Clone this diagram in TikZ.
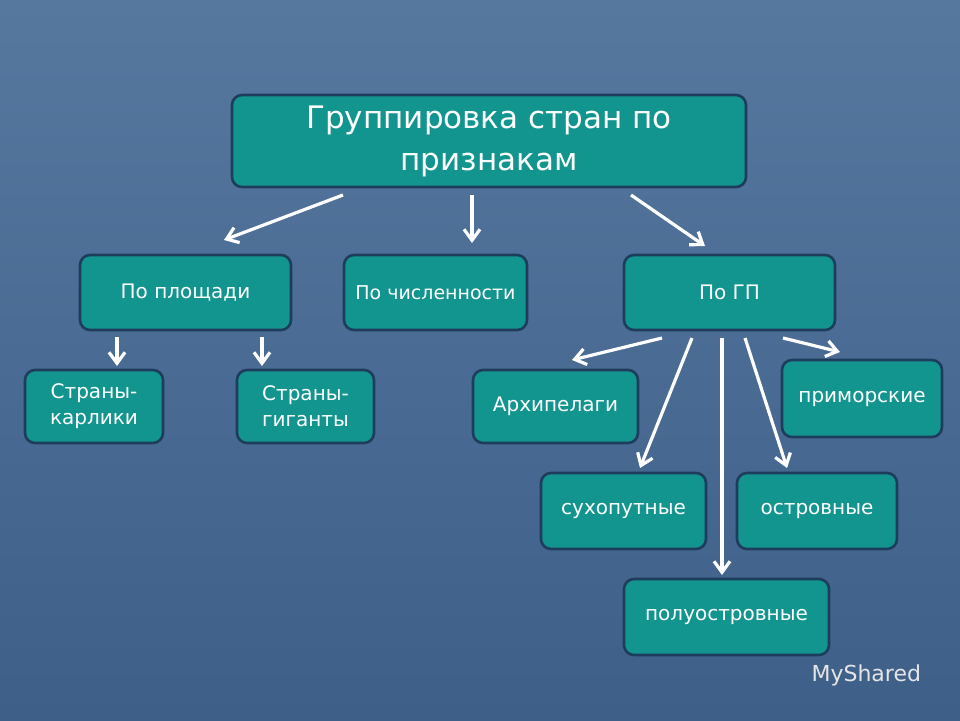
\documentclass[tikz,border=0pt]{standalone}
\usepackage{fontspec}
\setmainfont{DejaVu Sans}
\usetikzlibrary{arrows.meta}
\definecolor{boxfill}{HTML}{13958F}
\definecolor{boxline}{HTML}{1E3D5C}
\definecolor{bgtop}{HTML}{56789F}
\definecolor{bgbot}{HTML}{3E5F88}
\tikzset{
  box/.style={draw=boxline,line width=2.6pt,fill=boxfill,rounded corners=10pt,text=white,align=center,font=\fontsize{20}{26}\selectfont,inner sep=0pt},
  arr/.style={draw=white,line width=3.2pt,-{Straight Barb[length=11pt,width=16pt,line width=3.2pt]}}
}
\begin{document}
\begin{tikzpicture}[x=1pt,y=-1pt]
\shade[top color=bgtop,bottom color=bgbot] (0,0) rectangle (960,720);
\useasboundingbox (0,0) rectangle (960,720);
\node[box,minimum width=514pt,minimum height=92pt,font=\fontsize{31}{42}\selectfont] (t) at (489,141) {Группировка стран по\\признакам};
\node[box,minimum width=211pt,minimum height=75pt] (pl) at (185.5,292.5) {По площади};
\node[box,minimum width=183pt,minimum height=75pt,font=\fontsize{19}{24}\selectfont] (ch) at (435.5,292.5) {По численности};
\node[box,minimum width=211pt,minimum height=75pt] (gp) at (729.5,292.5) {По ГП};
\node[box,minimum width=138pt,minimum height=73pt] (ka) at (94,406.5) {Страны-\\карлики};
\node[box,minimum width=137pt,minimum height=73pt] (gi) at (305.5,406.5) {Страны-\\гиганты};
\node[box,minimum width=165pt,minimum height=73pt] (ar) at (555.5,406.5) {Архипелаги};
\node[box,minimum width=160pt,minimum height=77pt] (pr) at (862,398.5) {приморские};
\node[box,minimum width=165pt,minimum height=76pt] (su) at (623.5,511) {сухопутные};
\node[box,minimum width=160pt,minimum height=76pt] (os) at (817,511) {островные};
\node[box,minimum width=205pt,minimum height=76pt] (po) at (726.5,617) {полуостровные};
\coordinate (a1) at (343,195); \coordinate (e1) at (224,240);
\coordinate (a2) at (472,195); \coordinate (e2) at (472,243);
\coordinate (a3) at (631,195); \coordinate (e3) at (705,246);
\coordinate (b1) at (117,337); \coordinate (f1) at (117,366);
\coordinate (b2) at (262,337); \coordinate (f2) at (262,366);
\coordinate (c1) at (662,338); \coordinate (g1) at (572,360);
\coordinate (c2) at (692,338); \coordinate (g2) at (640,468);
\coordinate (c3) at (722,338); \coordinate (g3) at (722,575);
\coordinate (c4) at (745,338); \coordinate (g4) at (787,468);
\coordinate (c5) at (783,338); \coordinate (g5) at (840,352);
\draw[arr] (a1) -- (e1);
\draw[arr] (a2) -- (e2);
\draw[arr] (a3) -- (e3);
\draw[arr] (b1) -- (f1);
\draw[arr] (b2) -- (f2);
\draw[arr] (c1) -- (g1);
\draw[arr] (c2) -- (g2);
\draw[arr] (c3) -- (g3);
\draw[arr] (c4) -- (g4);
\draw[arr] (c5) -- (g5);
\node[text=white!80!gray,font=\fontsize{22}{24}\selectfont,anchor=west] (ms) at (808,675) {MyShared};
\end{tikzpicture}
\end{document}
